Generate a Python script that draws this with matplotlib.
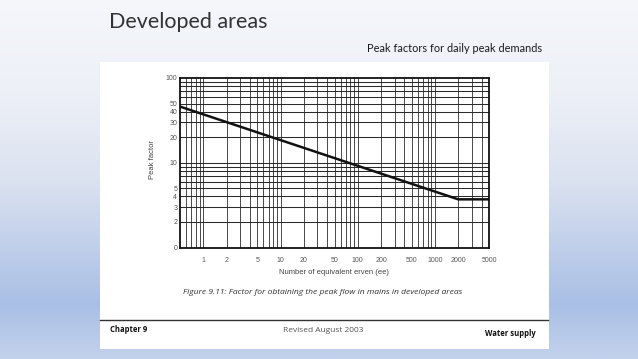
import numpy as np
import matplotlib
matplotlib.use("Agg")
import matplotlib.pyplot as plt
from matplotlib.colors import LinearSegmentedColormap
from matplotlib.patches import Rectangle
from matplotlib.lines import Line2D
from matplotlib.ticker import FixedLocator, NullLocator

# ---- data ----
line_x = [0.5, 2000, 5000]          # number of equivalent erven
line_y = [46, 3.7, 3.7]             # peak factor
x_ticks = [1, 2, 5, 10, 20, 50, 100, 200, 500, 1000, 2000, 5000]
x_tick_labels = ["1", "2", "5", "10", "20", "50", "100", "200", "500", "1000", "2000", "5000"]
y_ticks = [1, 2, 3, 4, 5, 10, 20, 30, 40, 50, 100]
y_tick_labels = ["0", "2", "3", "4", "5", "10", "20", "30", "40", "50", "100"]
x_grid = [0.6, 0.7, 0.8, 0.9] + [m * 10 ** e for e in range(0, 3) for m in range(1, 10)] + [1000, 2000, 3000, 4000]
y_grid = [2, 3, 4, 5, 6, 7, 8, 9, 10, 20, 30, 40, 50, 60, 70, 80, 90]

W, H = 638, 359
fig = plt.figure(figsize=(W / 100, H / 100), dpi=100)

# background gradient
bg = fig.add_axes([0, 0, 1, 1], zorder=-10)
cmap = LinearSegmentedColormap.from_list(
    "bg", [(0.0, "#f5f7fb"), (0.25, "#edf0f7"), (0.5, "#dbe2f0"), (0.85, "#a9bfe5"), (1.0, "#c3d2ec")])
grad = np.linspace(0, 1, 256).reshape(-1, 1)
bg.imshow(grad, aspect="auto", cmap=cmap, extent=[0, 1, 1, 0])
bg.set_xlim(0, 1); bg.set_ylim(1, 0)
bg.axis("off")

def fx(px):
    return px / W

def fy(py):
    return 1 - py / H

# white picture area
fig.patches.append(Rectangle((fx(100), fy(349)), fx(549) - fx(100), fy(62) - fy(349),
                             transform=fig.transFigure, facecolor="white", edgecolor="none", zorder=-5))

# title and subtitle
fig.text(fx(109), fy(22), "Developed areas", fontsize=15.5, family="Lato",
         color="#333333", ha="left", va="center")
fig.text(fx(542), fy(48), "Peak factors for daily peak demands", fontsize=7.9, family="Lato",
         color="#1a1a1a", ha="right", va="center")

# chart
ax = fig.add_axes([fx(180), fy(247.5), fx(489) - fx(180), fy(78) - fy(247.5)])
ax.set_xscale("log")
ax.set_yscale("log")
ax.set_xlim(0.5, 5000)
ax.set_ylim(1, 100)
for gx in x_grid:
    ax.axvline(gx, color="#3c3c3c", lw=0.65, zorder=1)
for gy in y_grid:
    ax.axhline(gy, color="#2a2a2a", lw=0.75, zorder=1)
ax.plot(line_x, line_y, color="#111111", lw=1.8, zorder=3, solid_capstyle="butt")

ax.xaxis.set_major_locator(FixedLocator(x_ticks))
ax.xaxis.set_minor_locator(NullLocator())
ax.yaxis.set_major_locator(FixedLocator(y_ticks))
ax.yaxis.set_minor_locator(NullLocator())
ax.set_xticklabels(x_tick_labels)
ax.set_yticklabels(y_tick_labels)
ax.tick_params(axis="both", length=0, labelsize=5, labelcolor="#555555")
ax.tick_params(axis="x", pad=7)
ax.tick_params(axis="y", pad=2)
for lab in ax.get_xticklabels() + ax.get_yticklabels():
    lab.set_family("Liberation Sans")
for s in ax.spines.values():
    s.set_linewidth(1.3)
    s.set_color("#111111")

fig.text(fx(334), fy(272), "Number of equivalent erven (ee)", fontsize=5.5, family="Liberation Sans",
         color="#444444", ha="center", va="center")
fig.text(fx(153), fy(160), "Peak factor", fontsize=5.5, family="Liberation Sans",
         color="#444444", ha="center", va="center", rotation=90)

fig.text(fx(323), fy(293), "Figure 9.11: Factor for obtaining the peak flow in mains in developed areas",
         fontsize=6.1, family="Open Sans", style="italic", color="#333333", ha="center", va="center")

# footer
fig.lines.append(Line2D([fx(100), fx(548)], [fy(320), fy(320)], transform=fig.transFigure,
                        color="#333333", lw=1.0))
fig.text(fx(110), fy(330), "Chapter 9", fontsize=5.5, family="Open Sans", fontweight="bold",
         color="#111111", ha="left", va="center")
fig.text(fx(323), fy(330), "Revised August 2003", fontsize=6, family="Open Sans",
         color="#555555", ha="center", va="center")
fig.text(fx(536), fy(334), "Water supply", fontsize=5.5, family="Open Sans", fontweight="bold",
         color="#111111", ha="right", va="center")

fig.savefig("out.png", dpi=100)
